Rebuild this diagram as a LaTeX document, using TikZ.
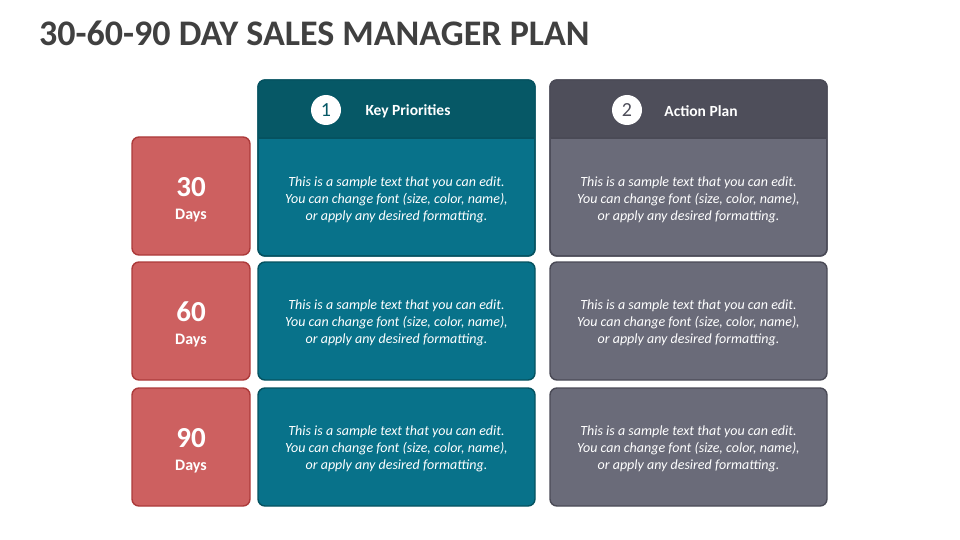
\documentclass[tikz,border=0pt]{standalone}
\usepackage{fontspec}
\setmainfont{Carlito}
\definecolor{tealbody}{RGB}{8,114,138}
\definecolor{tealhdr}{RGB}{6,88,102}
\definecolor{tealline}{RGB}{5,82,96}
\definecolor{greybody}{RGB}{106,107,121}
\definecolor{greyhdr}{RGB}{78,78,90}
\definecolor{greyline}{RGB}{74,74,86}
\definecolor{redbody}{RGB}{205,96,96}
\definecolor{redline}{RGB}{172,58,58}
\definecolor{titlecol}{RGB}{64,64,64}
\tikzset{
  cellbase/.style={rectangle, rounded corners=7pt, line width=1.4pt, inner sep=0pt, text=white, align=center},
  tealcell/.style={cellbase, fill=tealbody, draw=tealline, minimum width=277pt, minimum height=118pt},
  greycell/.style={cellbase, fill=greybody, draw=greyline, minimum width=277pt, minimum height=118pt},
  redcell/.style={cellbase, fill=redbody, draw=redline, minimum width=118pt, minimum height=118pt},
  bodytext/.style={text=white, align=center, font=\fontsize{14}{17}\selectfont\itshape},
  numcircle/.style={circle, fill=white, minimum size=30pt, inner sep=0pt, font=\fontsize{20}{20}\selectfont},
  hdrtext/.style={text=white, font=\fontsize{15.5}{15.5}\selectfont\bfseries},
  bignum/.style={text=white, font=\fontsize{29}{29}\selectfont\bfseries},
  daystext/.style={text=white, font=\fontsize{16}{16}\selectfont\bfseries},
}
\newcommand{\sampletext}{This is a sample text that you can edit.\\You can change font (size, color, name),\\or apply any desired formatting.}
\begin{document}
\begin{tikzpicture}[x=1pt,y=-1pt]
\useasboundingbox (0,0) rectangle (960,540);
% title
\node[anchor=base west, inner sep=0pt, text=titlecol, font=\fontsize{36}{36}\selectfont\bfseries] (title) at (39,46) {30-60-90 DAY SALES MANAGER PLAN};

% column 1 top block
\node[tealcell, minimum height=176pt] (kbox) at (396.5,168) {};
\begin{scope}
  \clip[rounded corners=7pt] (258,80) rectangle (535,256);
  \fill[tealhdr] (258,80) rectangle (535,138);
\end{scope}
\draw[tealline, line width=2pt] (258.7,138.5) -- (534.3,138.5);
\draw[tealline, line width=1.4pt, rounded corners=7pt] (258,80) rectangle (535,256);
\node[numcircle, text=tealhdr] (c1) at (326,110) {1};
\node[hdrtext] (h1) at (408,111) {Key Priorities};
\node[bodytext] (k30) at (396.5,200) {\sampletext};

% column 2 top block
\node[greycell, minimum height=176pt] (abox) at (688.5,168) {};
\begin{scope}
  \clip[rounded corners=7pt] (550,80) rectangle (827,256);
  \fill[greyhdr] (550,80) rectangle (827,138);
\end{scope}
\draw[greyline, line width=2pt] (550.7,138.5) -- (826.3,138.5);
\draw[greyline, line width=1.4pt, rounded corners=7pt] (550,80) rectangle (827,256);
\node[numcircle, text=greyhdr] (c2) at (627,110) {2};
\node[hdrtext] (h2) at (701,111) {Action Plan};
\node[bodytext] (a30) at (688.5,200) {\sampletext};

% rows 2 and 3
\node[tealcell] (k60) at (396.5,321) {};
\node[bodytext] at ([yshift=-2pt]k60.center) {\sampletext};
\node[greycell] (a60) at (688.5,321) {};
\node[bodytext] at ([yshift=-2pt]a60.center) {\sampletext};
\node[tealcell] (k90) at (396.5,447) {};
\node[bodytext] at ([yshift=-2pt]k90.center) {\sampletext};
\node[greycell] (a90) at (688.5,447) {};
\node[bodytext] at ([yshift=-2pt]a90.center) {\sampletext};

% red day boxes
\node[redcell] (d30) at (191,196) {};
\node[bignum] (n30) at (191,187) {30};
\node[daystext] (t30) at (191,215.5) {Days};
\node[redcell] (d60) at (191,321) {};
\node[bignum] (n60) at (191,312) {60};
\node[daystext] (t60) at (191,340.5) {Days};
\node[redcell] (d90) at (191,447) {};
\node[bignum] (n90) at (191,438) {90};
\node[daystext] (t90) at (191,466.5) {Days};
\end{tikzpicture}
\end{document}
